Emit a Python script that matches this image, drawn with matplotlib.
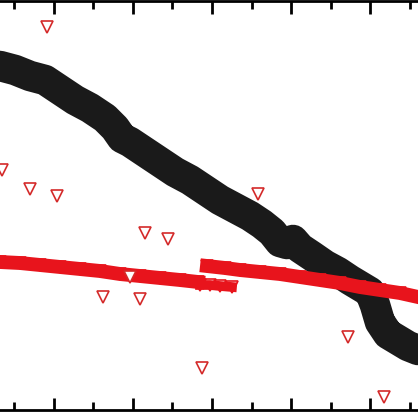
import matplotlib.pyplot as plt
import numpy as np

# black band centre line (x, y in picture units, y measured downward)
black_x = [0, 15, 30, 45, 60, 75, 90, 105, 115, 122, 130, 145, 160, 175, 190, 205, 220,
           235, 250, 262, 272, 280, 287, 293, 300, 312, 325, 338, 350, 360, 370, 375,
           380, 388, 398, 408, 418]
black_y = [66, 70, 76, 80, 90, 100, 108, 118, 128, 138, 142, 152, 162, 172, 180, 190, 200,
           208, 216, 224, 232, 242, 244, 240, 248, 256, 265, 272, 280, 286, 292, 305,
           322, 334, 340, 346, 350]

# red band, two pieces
red_x = [0, 20, 40, 60, 80, 100, 120, 140, 160, 180, 198]
red_y = [262, 263, 265, 267, 269, 271, 274, 276, 278, 280, 282]
red_xb = [207, 225, 240, 260, 280, 300, 320, 340, 360, 380, 400, 418]
red_yb = [266, 268, 270, 272, 274, 277, 280, 283, 287, 290, 293, 297]
red_x2 = [200, 210, 220, 232]
red_y2 = [285, 285, 286, 287]

# scattered outliers
out_x = [47, 2, 30, 57, 145, 168, 258, 103, 130, 140, 202, 348, 384]
out_y = [27, 170, 189, 196, 233, 239, 194, 297, 277, 299, 368, 337, 397]

fig = plt.figure(figsize=(4.18, 4.18), dpi=100)
ax = fig.add_axes([-0.02, 8 / 418, 1.04, 409 / 418])
ax.set_xlim(-8.36, 426.36)
ax.set_ylim(410, 1)

ax.plot(black_x, black_y, color='#1a1a1a', lw=22, solid_capstyle='round', zorder=2)
ax.errorbar(black_x, black_y, xerr=12, fmt='o', ms=18, color='#1a1a1a', ecolor='#555555',
            elinewidth=1, zorder=2)
for xs, ys, w in [(red_x, red_y, 10), (red_xb, red_yb, 10), (red_x2, red_y2, 7)]:
    ax.plot(xs, ys, color='#e8141c', lw=w, zorder=3)
    ax.plot(xs, ys, 'v', ms=9, mfc='none', mec='#e8141c', mew=1.2, zorder=3)
ax.plot(out_x, out_y, 'v', ms=8, mfc='white', mec='#d42a2a', mew=1.2, zorder=4)

ticks = [14 + 39.6 * i for i in range(11)]
ax.set_xticks(ticks[1::2])
ax.set_xticks(ticks[0::2], minor=True)
ax.tick_params(axis='x', which='both', direction='in', top=True, bottom=True,
               labelbottom=False, width=2)
ax.tick_params(axis='x', which='major', length=9)
ax.tick_params(axis='x', which='minor', length=6)
ax.set_yticks([])
for s in ax.spines.values():
    s.set_linewidth(2)

fig.savefig('out.png', dpi=100)
